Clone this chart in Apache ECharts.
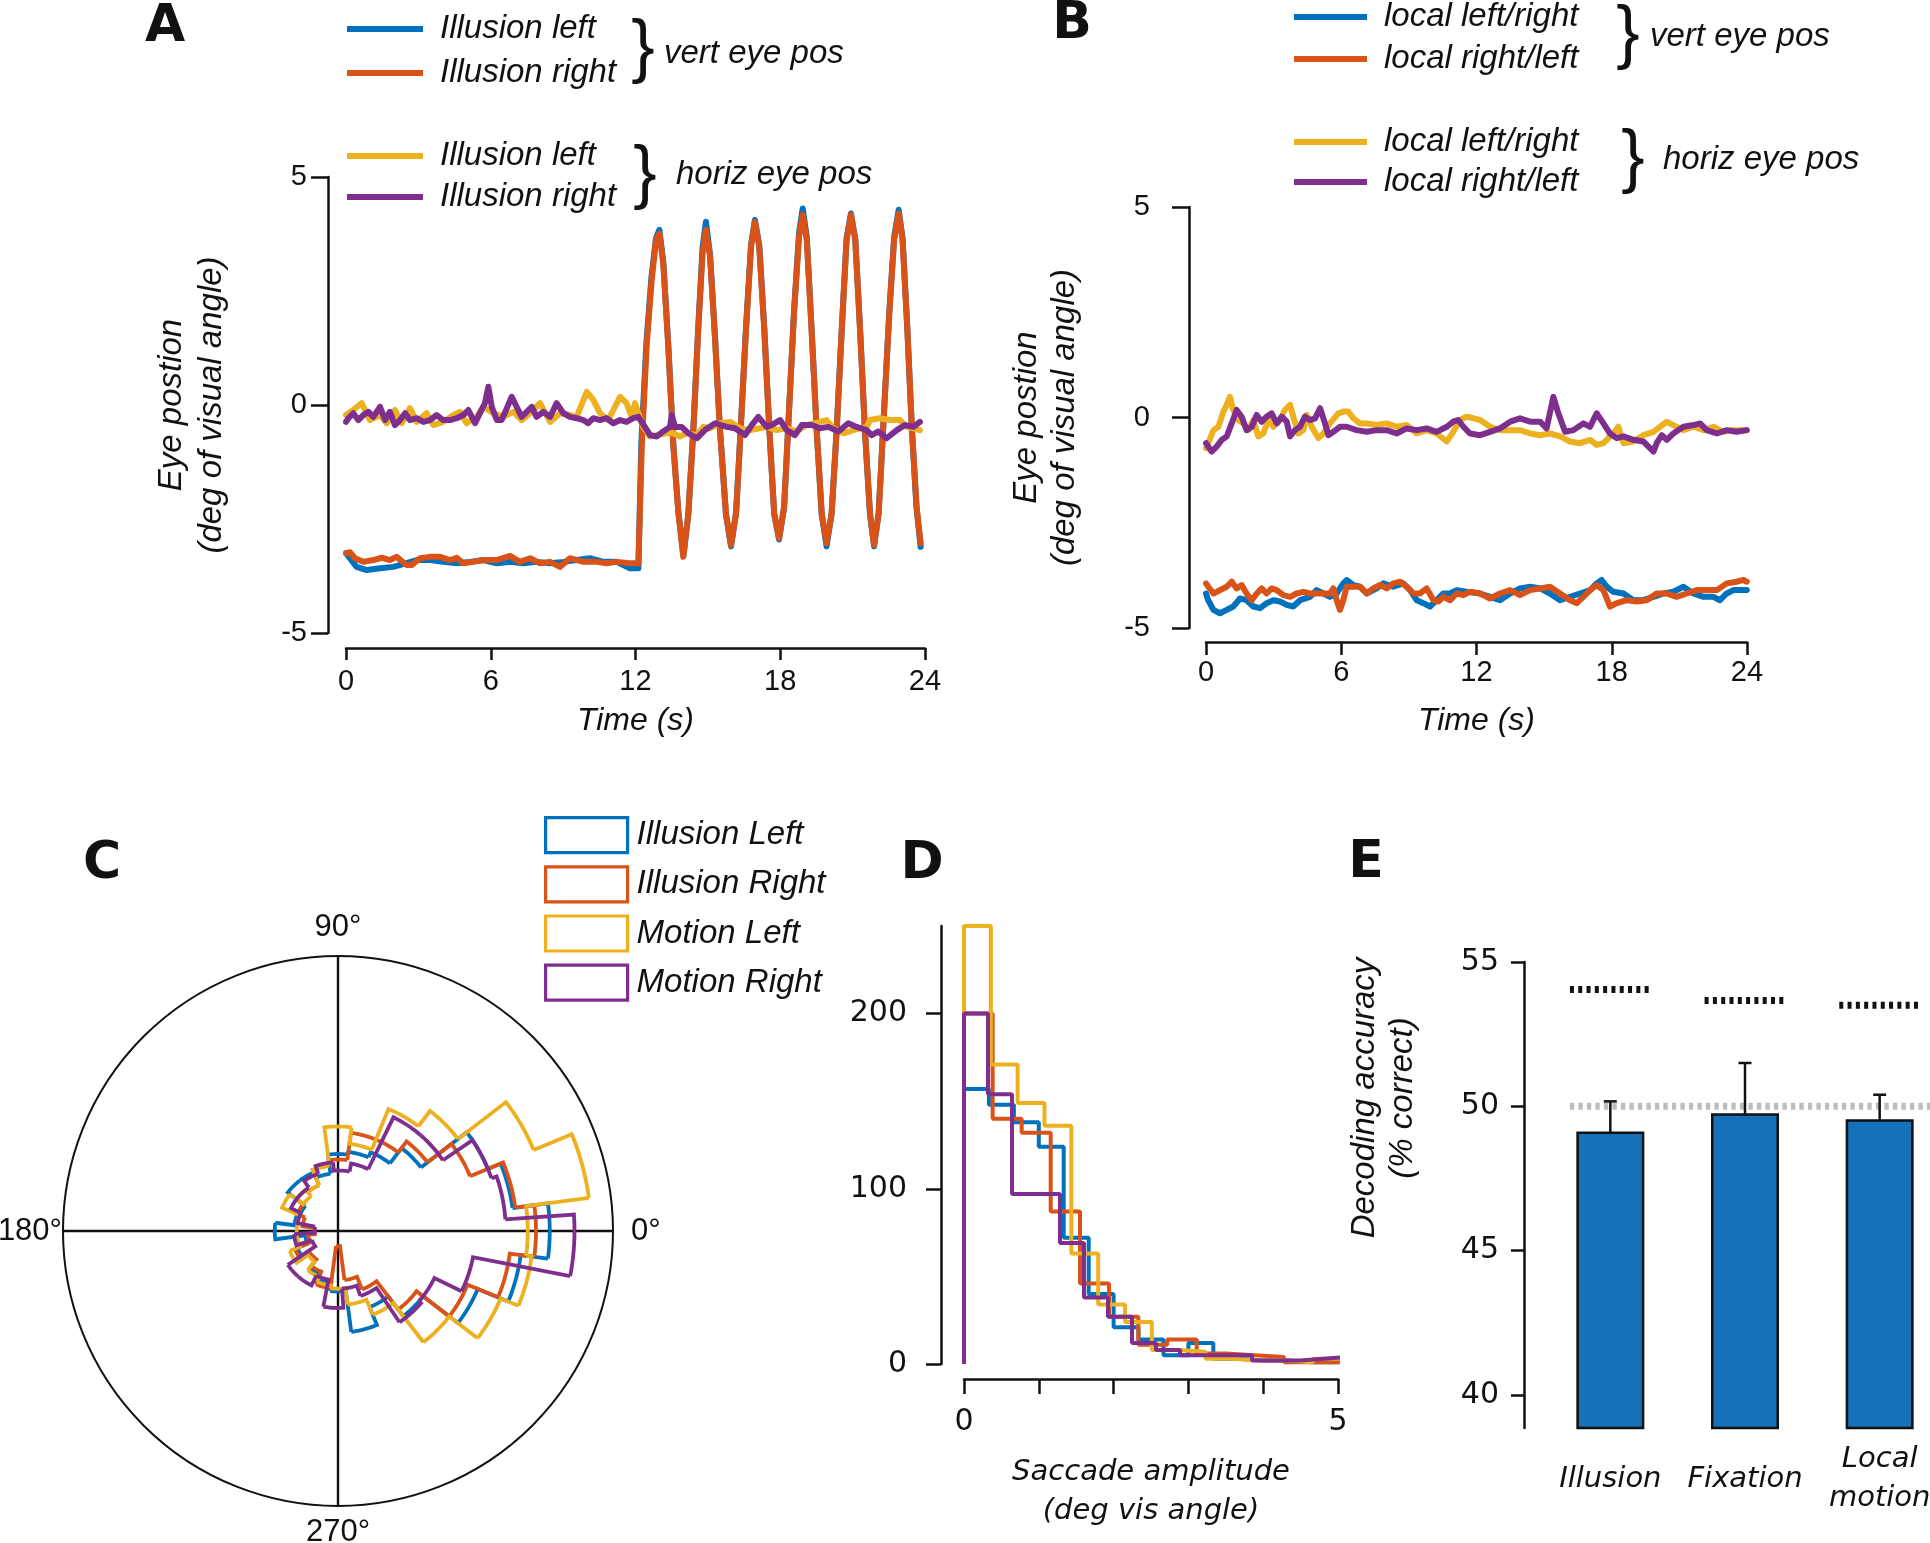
<!DOCTYPE html>
<html><head><meta charset="utf-8">
<script src="https://cdn.jsdelivr.net/npm/echarts@6/dist/echarts.min.js"></script>
<style>html,body{margin:0;padding:0;background:#fff}#c{width:1930px;height:1543px}</style>
</head><body><div id="c"></div>
<script>
// ================= DATA =================
// ---- Panel A: eye position during illusion (time s, deg) ----
const aVertLeft = [[0,-3.25],[0.44,-3.55],[0.86,-3.62],[1.41,-3.58],[1.96,-3.55],[2.51,-3.47],[2.93,-3.40],[3.48,-3.40],[4.03,-3.44],[4.59,-3.47],[5.14,-3.44],[5.69,-3.40],[6.25,-3.47],[6.80,-3.44],[7.35,-3.47],[7.90,-3.44],[8.46,-3.47],[9.01,-3.44],[9.56,-3.40],[10.11,-3.36],[10.67,-3.44],[11.22,-3.44],[11.77,-3.58],[12.12,-3.58],[12.24,-0.85],[12.45,1.35],[12.66,2.80],[12.85,3.66],[12.99,3.84],[13.15,3.15],[13.36,1.30],[13.57,-0.88],[13.78,-2.36],[13.99,-3.30],[14.19,-2.40],[14.40,-0.50],[14.60,1.70],[14.78,3.45],[14.92,4.02],[15.09,3.30],[15.30,1.45],[15.50,-0.52],[15.75,-2.40],[15.96,-3.10],[16.17,-2.35],[16.36,-0.50],[16.58,1.70],[16.79,3.52],[16.95,4.06],[17.13,3.50],[17.34,1.66],[17.55,-0.55],[17.75,-2.40],[17.95,-2.95],[18.16,-2.25],[18.36,-0.15],[18.57,2.05],[18.78,3.78],[18.93,4.31],[19.10,3.68],[19.30,1.66],[19.51,-0.55],[19.72,-2.42],[19.92,-3.10],[20.13,-2.38],[20.34,-0.52],[20.55,1.68],[20.75,3.66],[20.93,4.20],[21.11,3.64],[21.31,1.64],[21.51,-0.57],[21.72,-2.40],[21.89,-3.10],[22.08,-2.36],[22.30,-0.16],[22.52,2.04],[22.72,3.68],[22.91,4.28],[23.07,3.66],[23.27,1.66],[23.46,-0.57],[23.65,-2.27],[23.82,-3.11]];
const aVertRight = [[0,-3.25],[0.17,-3.23],[0.37,-3.36],[0.72,-3.44],[1.13,-3.40],[1.48,-3.35],[1.82,-3.40],[2.10,-3.33],[2.51,-3.51],[2.72,-3.51],[3.07,-3.36],[3.48,-3.33],[3.90,-3.33],[4.31,-3.40],[4.59,-3.35],[4.86,-3.47],[5.28,-3.44],[5.69,-3.40],[6.25,-3.40],[6.80,-3.31],[7.21,-3.44],[7.63,-3.36],[8.04,-3.47],[8.46,-3.44],[8.87,-3.55],[9.28,-3.36],[9.84,-3.44],[10.39,-3.44],[10.80,-3.47],[11.22,-3.44],[11.77,-3.47],[12.12,-3.47],[12.26,-0.91],[12.46,1.28],[12.67,2.74],[12.85,3.62],[12.99,3.76],[13.15,3.11],[13.36,1.28],[13.57,-0.91],[13.78,-2.38],[13.98,-3.33],[14.19,-2.38],[14.40,-0.55],[14.60,1.64],[14.78,3.33],[14.92,3.84],[15.09,3.26],[15.30,1.43],[15.50,-0.55],[15.75,-2.38],[15.96,-3.07],[16.17,-2.38],[16.36,-0.55],[16.58,1.64],[16.79,3.47],[16.95,4.02],[17.13,3.47],[17.34,1.64],[17.55,-0.55],[17.75,-2.38],[17.95,-2.92],[18.16,-2.23],[18.36,-0.18],[18.57,2.01],[18.78,3.69],[18.93,4.17],[19.10,3.62],[19.30,1.64],[19.51,-0.55],[19.72,-2.38],[19.92,-3.03],[20.13,-2.38],[20.34,-0.55],[20.55,1.64],[20.75,3.62],[20.93,4.17],[21.11,3.62],[21.31,1.64],[21.51,-0.55],[21.72,-2.38],[21.89,-3.07],[22.08,-2.38],[22.30,-0.18],[22.52,2.01],[22.72,3.62],[22.91,4.20],[23.07,3.62],[23.27,1.64],[23.46,-0.55],[23.65,-2.23],[23.82,-3.03]];
const aHorizLeft = [[0,-0.22],[0.30,-0.11],[0.65,0.04],[0.99,-0.33],[1.41,-0.22],[1.69,-0.40],[2.03,-0.11],[2.31,-0.40],[2.65,-0.07],[2.93,-0.37],[3.34,-0.18],[3.62,-0.44],[4.03,-0.37],[4.45,-0.22],[4.73,-0.15],[5.00,-0.40],[5.42,-0.26],[5.69,-0.04],[6.11,-0.18],[6.52,-0.26],[6.94,-0.15],[7.28,-0.33],[7.63,-0.18],[8.04,0.04],[8.46,-0.37],[8.87,-0.18],[9.28,-0.22],[9.56,-0.26],[9.98,0.29],[10.25,0.11],[10.53,-0.18],[10.87,-0.33],[11.08,-0.11],[11.36,0.18],[11.63,0.04],[11.84,-0.26],[11.98,0.04],[12.12,-0.18],[12.32,-0.48],[12.60,-0.69],[12.88,-0.66],[13.29,-0.62],[13.57,-0.62],[13.84,-0.69],[14.12,-0.62],[14.54,-0.66],[14.81,-0.48],[15.09,-0.51],[15.50,-0.40],[15.92,-0.37],[16.33,-0.51],[16.75,-0.55],[17.16,-0.51],[17.44,-0.48],[17.85,-0.55],[18.27,-0.51],[18.68,-0.58],[19.09,-0.44],[19.65,-0.37],[19.92,-0.33],[20.20,-0.51],[20.62,-0.62],[21.03,-0.55],[21.58,-0.48],[21.72,-0.33],[22.13,-0.29],[22.55,-0.33],[22.96,-0.33],[23.24,-0.48],[23.52,-0.51],[23.79,-0.55]];
const aHorizRight = [[0,-0.37],[0.10,-0.29],[0.30,-0.18],[0.51,-0.33],[0.72,-0.22],[0.93,-0.15],[1.13,-0.26],[1.41,-0.04],[1.62,-0.33],[1.82,-0.15],[2.03,-0.44],[2.24,-0.33],[2.45,-0.18],[2.65,-0.33],[2.93,-0.29],[3.21,-0.37],[3.48,-0.33],[3.76,-0.22],[4.03,-0.33],[4.31,-0.33],[4.59,-0.29],[4.86,-0.22],[5.07,-0.11],[5.35,-0.40],[5.55,-0.18],[5.76,0.04],[5.90,0.40],[6.04,-0.04],[6.25,-0.33],[6.45,-0.33],[6.66,-0.08],[6.87,0.18],[7.07,-0.04],[7.28,-0.26],[7.49,-0.15],[7.70,-0.04],[7.90,-0.26],[8.18,-0.15],[8.46,-0.26],[8.73,0.04],[9.01,-0.18],[9.28,-0.26],[9.56,-0.29],[9.84,-0.33],[10.04,-0.40],[10.25,-0.29],[10.53,-0.33],[10.80,-0.29],[11.08,-0.40],[11.36,-0.33],[11.63,-0.37],[11.91,-0.29],[12.12,-0.26],[12.39,-0.48],[12.60,-0.66],[12.88,-0.69],[13.15,-0.58],[13.43,-0.48],[13.50,-0.22],[13.64,-0.48],[13.91,-0.48],[14.19,-0.62],[14.54,-0.73],[14.88,-0.55],[15.30,-0.40],[15.78,-0.48],[16.12,-0.51],[16.54,-0.66],[16.82,-0.44],[17.09,-0.26],[17.44,-0.48],[17.64,-0.44],[17.99,-0.33],[18.27,-0.55],[18.61,-0.66],[18.89,-0.44],[19.30,-0.44],[19.65,-0.51],[19.99,-0.48],[20.41,-0.58],[20.82,-0.40],[21.17,-0.48],[21.58,-0.55],[21.79,-0.66],[22.07,-0.58],[22.41,-0.73],[22.83,-0.55],[23.17,-0.44],[23.52,-0.48],[23.79,-0.37]];

// ---- Panel B: eye position during local motion ----
const bVertLR = [[0,-4.18],[0.10,-4.34],[0.33,-4.57],[0.62,-4.65],[0.92,-4.57],[1.21,-4.49],[1.51,-4.30],[1.80,-4.34],[2.10,-4.49],[2.40,-4.53],[2.69,-4.41],[2.99,-4.34],[3.28,-4.37],[3.58,-4.45],[3.87,-4.49],[4.17,-4.34],[4.61,-4.26],[4.91,-4.10],[5.21,-4.18],[5.50,-4.26],[5.80,-4.18],[6.09,-3.94],[6.24,-3.86],[6.54,-3.98],[6.83,-4.02],[7.13,-4.18],[7.57,-4.06],[7.87,-3.94],[8.31,-4.02],[8.75,-3.94],[9.05,-4.10],[9.35,-4.34],[9.64,-4.41],[9.94,-4.49],[10.23,-4.34],[10.53,-4.18],[10.83,-4.18],[11.12,-4.10],[11.56,-4.14],[12.16,-4.18],[12.60,-4.26],[13.04,-4.34],[13.49,-4.18],[13.93,-4.06],[14.38,-4.02],[14.82,-4.06],[15.26,-4.18],[15.71,-4.34],[16.15,-4.26],[16.59,-4.18],[17.04,-4.10],[17.33,-3.94],[17.55,-3.86],[17.78,-4.02],[18.07,-4.14],[18.52,-4.18],[18.96,-4.34],[19.40,-4.34],[19.85,-4.26],[20.29,-4.18],[20.73,-4.14],[21.18,-4.02],[21.62,-4.18],[22.07,-4.26],[22.51,-4.26],[22.80,-4.34],[23.10,-4.18],[23.40,-4.10],[23.69,-4.10],[23.99,-4.10]];
const bVertRL = [[0,-3.94],[0.10,-4.02],[0.33,-4.18],[0.62,-4.10],[0.92,-4.02],[1.14,-3.90],[1.36,-4.06],[1.58,-3.98],[1.80,-4.18],[2.03,-4.34],[2.25,-4.18],[2.47,-4.06],[2.69,-4.18],[2.91,-4.06],[3.14,-4.10],[3.43,-4.22],[3.73,-4.26],[4.02,-4.18],[4.32,-4.14],[4.61,-4.18],[4.91,-4.18],[5.21,-4.18],[5.50,-4.18],[5.65,-4.06],[5.80,-4.34],[5.94,-4.57],[6.09,-4.34],[6.24,-4.02],[6.54,-4.02],[6.83,-4.02],[7.13,-4.18],[7.42,-4.06],[7.72,-3.98],[8.02,-4.06],[8.31,-3.94],[8.61,-3.90],[8.90,-4.02],[9.20,-4.18],[9.49,-4.18],[9.79,-4.06],[10.09,-4.34],[10.31,-4.37],[10.53,-4.26],[10.83,-4.34],[11.12,-4.18],[11.42,-4.22],[11.71,-4.14],[12.16,-4.18],[12.60,-4.30],[13.04,-4.18],[13.49,-4.10],[13.93,-4.22],[14.38,-4.10],[14.82,-4.06],[15.26,-4.02],[15.71,-4.18],[16.15,-4.34],[16.45,-4.41],[16.74,-4.26],[17.04,-4.10],[17.33,-3.98],[17.63,-4.10],[17.92,-4.49],[18.22,-4.41],[18.66,-4.34],[19.11,-4.37],[19.55,-4.34],[19.99,-4.18],[20.44,-4.18],[20.88,-4.26],[21.33,-4.18],[21.77,-4.10],[22.21,-4.10],[22.66,-4.10],[23.10,-3.94],[23.54,-3.90],[23.84,-3.86],[23.99,-3.90]];
const bHorizLR = [[0,-0.73],[0.10,-0.61],[0.33,-0.30],[0.55,-0.22],[0.77,0.14],[0.92,0.30],[1.06,0.49],[1.21,0.18],[1.43,-0.06],[1.66,-0.14],[1.88,-0.30],[2.10,-0.06],[2.32,-0.45],[2.54,-0.38],[2.77,-0.06],[2.99,-0.22],[3.28,-0.06],[3.50,0.18],[3.73,0.30],[3.87,0.02],[4.10,-0.38],[4.32,-0.30],[4.47,0.06],[4.69,-0.22],[4.98,-0.49],[5.21,-0.38],[5.50,-0.14],[5.87,0.10],[6.09,0.14],[6.31,0.14],[6.54,-0.02],[6.83,-0.14],[7.13,-0.14],[7.57,-0.18],[8.02,-0.14],[8.46,-0.22],[8.90,-0.18],[9.35,-0.38],[9.79,-0.30],[10.23,-0.38],[10.68,-0.57],[10.97,-0.34],[11.27,-0.06],[11.56,0.02],[12.16,-0.06],[12.60,-0.22],[13.04,-0.30],[13.49,-0.30],[13.93,-0.30],[14.38,-0.38],[14.82,-0.42],[15.26,-0.38],[15.71,-0.45],[16.15,-0.57],[16.59,-0.61],[17.04,-0.53],[17.33,-0.65],[17.63,-0.61],[18.07,-0.38],[18.29,-0.22],[18.52,-0.61],[18.96,-0.57],[19.40,-0.42],[19.85,-0.34],[20.14,-0.22],[20.44,-0.10],[20.73,-0.18],[21.18,-0.30],[21.62,-0.22],[22.07,-0.30],[22.51,-0.22],[22.95,-0.34],[23.40,-0.30],[23.84,-0.30],[23.99,-0.30]];
const bHorizRL = [[0,-0.61],[0.25,-0.81],[0.47,-0.69],[0.70,-0.53],[0.92,-0.45],[1.14,-0.14],[1.36,0.18],[1.58,0.02],[1.80,-0.30],[2.03,-0.22],[2.25,0.06],[2.47,-0.10],[2.69,0.02],[2.91,0.10],[3.14,-0.14],[3.36,0.02],[3.58,-0.10],[3.73,-0.45],[3.95,-0.30],[4.17,-0.22],[4.39,0.02],[4.61,-0.06],[4.84,-0.02],[5.06,0.22],[5.28,-0.14],[5.43,-0.42],[5.65,-0.34],[5.94,-0.22],[6.24,-0.22],[6.68,-0.30],[7.13,-0.34],[7.57,-0.30],[8.02,-0.30],[8.46,-0.38],[8.90,-0.26],[9.35,-0.30],[9.79,-0.26],[10.23,-0.34],[10.68,-0.22],[10.97,-0.10],[11.19,-0.06],[11.42,-0.22],[11.71,-0.38],[12.16,-0.42],[12.60,-0.34],[13.04,-0.26],[13.49,-0.10],[13.93,-0.02],[14.38,-0.10],[14.82,-0.10],[15.11,-0.26],[15.41,0.49],[15.63,0.10],[15.93,-0.34],[16.30,-0.30],[16.74,-0.14],[17.04,-0.22],[17.33,0.10],[17.63,-0.14],[17.92,-0.38],[18.22,-0.49],[18.52,-0.45],[18.96,-0.53],[19.40,-0.57],[19.85,-0.81],[19.99,-0.61],[20.22,-0.42],[20.44,-0.53],[20.73,-0.38],[21.18,-0.22],[21.62,-0.18],[21.92,-0.14],[22.21,-0.30],[22.66,-0.38],[23.10,-0.30],[23.54,-0.34],[23.99,-0.30]];

// ---- Panel C: saccade direction histograms (bin centre deg, count; circle = 100) ----
const roseBinWidth = 15;
const roseAngles = [0,15,30,45,60,75,90,105,120,135,150,165,180,195,210,225,240,255,270,285,300,315,330,345];
const roseAnglesMotionRight = [-3.5,11.5,26.5,41.5,56.5,71.5,86.5,101.5,116.5,131.5,146.5,161.5,176.5,191.5,206.5,221.5,236.5,251.5,266.5,281.5,296.5,311.5,326.5,341.5];
const roseIllusionLeft  = [77,64,59,38,31,29,28,21,23,23,15,16,23,12,16,13,17,19,22,37,30,39,55,67];
const roseIllusionRight = [72,65,52,41,36,36,26,24,18,19,16,13,8.5,11,17,13,16,21,5.5,18,23,36,51,63];
const roseMotionLeft    = [69,92,77,55,48,32,38,24,18,16,22,15,15,15,19,14,18,20,21,27,33,51,64,71];
const roseMotionRight   = [86,61,59,46,46,25,22,25,22,19,19,15,8.5,16,10,22,22,18,28,21,25,40,39,50];
const roseNames = ['Illusion Left','Illusion Right','Motion Left','Motion Right'];

// ---- Panel D: saccade amplitude histograms (bin edges deg, counts) ----
const dEdgesIllusionLeft  = [0,0.333,0.667,1.0,1.333,1.667,2.0,2.333,2.667,3.0,3.333,3.667,4.0,4.333,4.667,5.0];
const dCountsIllusionLeft = [157,148,138,124,72,40,21,14,5,12,3,2,2,1,1];
const dEdgesIllusionRight  = [0,0.383,0.771,1.159,1.551,1.939,2.331,2.718,3.111,3.498,3.890,4.278,4.670,5.058];
const dCountsIllusionRight = [200,140,132,87,46,27,11,14,6,5,4,1,1];
const dEdgesMotionLeft  = [0,0.359,0.717,1.076,1.435,1.794,2.152,2.511,2.870,3.229,3.587,3.946,4.305,4.664,5.022];
const dCountsMotionLeft = [250,171,149,136,63,34,24,8,7,3,2,2,1,3];
const dEdgesMotionRight  = [0,0.321,0.642,0.963,1.283,1.604,1.925,2.246,2.567,2.888,3.209,3.529,3.850,4.171,4.492,4.813,5.134];
const dCountsMotionRight = [200,154,97,97,69,38,27,12,8,5,5,5,2,2,3,4];
const dYTicks = [0,100,200];
const dXLabels = [0,5];

// ---- Panel E: decoding accuracy (% correct) ----
const eCats = ['Illusion','Fixation','Local\nmotion'];
const eAccuracy = [49.13,49.76,49.55];
const eErrLow  = [48.04,47.94,48.66];
const eErrHigh = [50.17,51.50,50.40];
const eThreshold = [54.05,53.67,53.50];
const eChance = 50;
const eYTicks = [40,45,50,55];

// ================= STYLE =================
const FONT = '"Liberation Sans", Arial, Helvetica, sans-serif';
const WIDE = '"DejaVu Sans", Verdana, sans-serif';
const INK = '#111';
const COL = { blue:'#0072BD', orange:'#D95319', yellow:'#EDB120', purple:'#7E2F8E' };
const roseColors = [COL.blue, COL.orange, COL.yellow, COL.purple];

const chart = echarts.init(document.getElementById('c'), null, {renderer:'canvas'});

function lineSeries(name, data, color, xi) {
  return { type:'line', name, data, xAxisIndex:xi, yAxisIndex:xi, showSymbol:false, symbol:'none',
    color, lineStyle:{color, width:6, cap:'round', join:'round'}, itemStyle:{color}, silent:true };
}
function histData(edges, counts) {
  const out = [[edges[0], 0]];
  for (let i = 0; i < counts.length; i++) out.push([edges[i], counts[i]]);
  out.push([edges[edges.length - 1], counts[counts.length - 1]]);
  return out;
}
function histSeries(name, edges, counts, color) {
  return { type:'line', name, data:histData(edges, counts), step:'end', xAxisIndex:2, yAxisIndex:2,
    showSymbol:false, symbol:'none', clip:false, color, lineStyle:{color, width:4}, silent:true };
}
function roseSeries(name, angles, radii, color) {
  const data = angles.map((a, i) => [radii[i], a, radii[(i + 1) % radii.length]]);
  return { type:'custom', name, coordinateSystem:'polar', polarIndex:0, data,
    encode:{radius:0, angle:1}, itemStyle:{color}, silent:true,
    renderItem(params, api) {
      const r = api.value(0), c = api.value(1), rn = api.value(2), h = roseBinWidth / 2;
      const pts = [];
      for (let k = 0; k <= 12; k++) pts.push(api.coord([r, c - h + 2 * h * k / 12]));
      pts.push(api.coord([rn, c + h]));
      return { type:'polyline', shape:{points:pts}, style:{stroke:color, lineWidth:3.8, fill:null, lineJoin:'miter'} };
    } };
}
const legendLine = (left, top, names, iw, gap) => ({
  orient:'vertical', left, top, padding:0, icon:'rect', itemWidth:iw, itemHeight:6, itemGap:gap, selectedMode:false,
  data:names, formatter:n => n.replace(/ \((vert|horiz)\)$/, ''),
  textStyle:{fontFamily:FONT, fontStyle:'italic', fontSize:33, color:INK, lineHeight:34, padding:[0,0,0,12]}
});
const axisLine = {show:true, onZero:false, lineStyle:{color:INK, width:2.5}};
const tickStyle = len => ({show:true, inside:false, length:len, lineStyle:{color:INK, width:2.5}});
const lbl = (size, margin, fam) => ({color:INK, fontFamily:fam || FONT, fontSize:size, margin, lineHeight:size + 1});
const LETTER = 'bold 52px "DejaVu Sans"';

const option = {
  animation:false,
  backgroundColor:'#fff',
  textStyle:{fontFamily:FONT, color:INK},
  grid:[
    {left:346, top:177, width:579, height:456, containLabel:false, outerBoundsMode:'none'},
    {left:1206, top:207, width:541, height:421, containLabel:false, outerBoundsMode:'none'},
    {left:964, top:926, width:374, height:438, containLabel:false, outerBoundsMode:'none'},
    {left:1543, top:962, width:404, height:466, containLabel:false, outerBoundsMode:'none'}
  ],
  polar:{center:[338, 1231], radius:275},
  angleAxis:{type:'value', min:0, max:360, interval:90, startAngle:0, clockwise:false,
    axisLine:{show:true, lineStyle:{color:INK, width:2}}, axisTick:{show:false},
    splitLine:{show:true, lineStyle:{color:INK, width:2.4}},
    axisLabel:{show:true, margin:1, color:INK, fontFamily:FONT, fontSize:31,
      formatter:v => ({0:'{r|0°}', 90:'{t|90°}', 180:'{l|180°}', 270:'{b|270°}'}[v] || ''),
      rich:{ r:{padding:[0,0,0,17], fontSize:31, fontFamily:FONT, color:INK},
             t:{padding:[0,0,12,0], fontSize:31, fontFamily:FONT, color:INK},
             l:{fontSize:31, fontFamily:FONT, color:INK},
             b:{padding:[10,0,0,0], fontSize:31, fontFamily:FONT, color:INK} } } },
  radiusAxis:{type:'value', min:0, max:100, axisLine:{show:false}, axisTick:{show:false}, axisLabel:{show:false}, splitLine:{show:false}},
  xAxis:[
    {gridIndex:0, type:'value', min:0, max:24, interval:6, offset:15, axisLine, axisTick:tickStyle(12),
      axisLabel:lbl(29, 19), splitLine:{show:false},
      name:'Time (s)', nameLocation:'middle', nameGap:56,
      nameTextStyle:{fontFamily:FONT, fontStyle:'italic', fontSize:32, color:INK, lineHeight:34}},
    {gridIndex:1, type:'value', min:0, max:24, interval:6, offset:14, axisLine, axisTick:tickStyle(13),
      axisLabel:lbl(29, 16), splitLine:{show:false},
      name:'Time (s)', nameLocation:'middle', nameGap:62,
      nameTextStyle:{fontFamily:FONT, fontStyle:'italic', fontSize:32, color:INK, lineHeight:34}},
    {gridIndex:2, type:'value', min:0, max:5, interval:1, offset:15, axisLine, axisTick:tickStyle(15),
      axisLabel:Object.assign(lbl(30, 28, WIDE), {customValues:dXLabels}), splitLine:{show:false},
      name:'Saccade amplitude\n(deg vis angle)', nameLocation:'middle', nameGap:74,
      nameTextStyle:{fontFamily:WIDE, fontStyle:'italic', fontSize:29, color:INK, lineHeight:39}},
    {gridIndex:3, type:'category', data:eCats, axisLine:{show:false, onZero:false}, axisTick:{show:false}, splitLine:{show:false},
      axisLabel:{color:INK, fontFamily:WIDE, fontStyle:'italic', fontSize:29, lineHeight:39, margin:51, verticalAlign:'middle', interval:0}}
  ],
  yAxis:[
    {gridIndex:0, type:'value', min:-5, max:5, interval:5, offset:18, axisLine, axisTick:tickStyle(17),
      axisLabel:lbl(29, 21), splitLine:{show:false},
      name:'Eye postion\n(deg of visual angle)', nameLocation:'middle', nameGap:96, nameRotate:90,
      nameTextStyle:{fontFamily:FONT, fontStyle:'italic', fontSize:33, color:INK, lineHeight:40}},
    {gridIndex:1, type:'value', min:-5, max:5, interval:5, offset:17, axisLine, axisTick:tickStyle(17),
      axisLabel:lbl(29, 39), splitLine:{show:false},
      name:'Eye postion\n(deg of visual angle)', nameLocation:'middle', nameGap:105, nameRotate:90,
      nameTextStyle:{fontFamily:FONT, fontStyle:'italic', fontSize:33, color:INK, lineHeight:38}},
    {gridIndex:2, type:'value', min:0, max:250, offset:23, axisLine,
      axisTick:Object.assign(tickStyle(15), {customValues:dYTicks}),
      axisLabel:Object.assign(lbl(30, 34, WIDE), {customValues:dYTicks}), splitLine:{show:false}},
    {gridIndex:3, type:'value', min:38.85, max:55, offset:19, axisLine,
      axisTick:Object.assign(tickStyle(13), {customValues:eYTicks}),
      axisLabel:Object.assign(lbl(30, 25, WIDE), {customValues:eYTicks}), splitLine:{show:false}}
  ],
  legend:[
    legendLine(347, 12, ['Illusion left (vert)','Illusion right (vert)'], 76, 10),
    legendLine(347, 139, ['Illusion left (horiz)','Illusion right (horiz)'], 76, 7),
    legendLine(1294, 0, ['local left/right (vert)','local right/left (vert)'], 73, 8),
    legendLine(1294, 125, ['local left/right (horiz)','local right/left (horiz)'], 73, 6),
    {orient:'vertical', left:544, top:816, padding:0, itemWidth:82, itemHeight:35, itemGap:11, selectedMode:false,
      data:roseNames.map((n, i) => ({name:n, icon:'rect', itemStyle:{color:'rgba(0,0,0,0)', borderColor:roseColors[i], borderWidth:3.2}})),
      textStyle:{fontFamily:FONT, fontStyle:'italic', fontSize:33, lineHeight:35, color:INK, padding:[0,0,0,4]}}
  ],
  graphic:[
    {type:'text', x:165, y:27, style:{text:'A', font:LETTER, fill:INK, align:'center', verticalAlign:'middle'}},
    {type:'text', x:1072, y:24, style:{text:'B', font:LETTER, fill:INK, align:'center', verticalAlign:'middle'}},
    {type:'text', x:102, y:864, style:{text:'C', font:LETTER, fill:INK, align:'center', verticalAlign:'middle'}},
    {type:'text', x:922, y:864, style:{text:'D', font:LETTER, fill:INK, align:'center', verticalAlign:'middle'}},
    {type:'text', x:1366, y:863, style:{text:'E', font:LETTER, fill:INK, align:'center', verticalAlign:'middle'}},
    {type:'text', x:643, y:50, style:{text:'}', font:'70px "Liberation Sans"', fill:INK, align:'center', verticalAlign:'middle'}},
    {type:'text', x:664, y:54, style:{text:'vert eye pos', font:'italic 33px "Liberation Sans"', fill:INK, align:'left', verticalAlign:'middle'}},
    {type:'text', x:645, y:176, style:{text:'}', font:'70px "Liberation Sans"', fill:INK, align:'center', verticalAlign:'middle'}},
    {type:'text', x:676, y:175, style:{text:'horiz eye pos', font:'italic 33px "Liberation Sans"', fill:INK, align:'left', verticalAlign:'middle'}},
    {type:'text', x:1628, y:36, style:{text:'}', font:'70px "Liberation Sans"', fill:INK, align:'center', verticalAlign:'middle'}},
    {type:'text', x:1650, y:37, style:{text:'vert eye pos', font:'italic 33px "Liberation Sans"', fill:INK, align:'left', verticalAlign:'middle'}},
    {type:'text', x:1633, y:160, style:{text:'}', font:'70px "Liberation Sans"', fill:INK, align:'center', verticalAlign:'middle'}},
    {type:'text', x:1663, y:160, style:{text:'horiz eye pos', font:'italic 33px "Liberation Sans"', fill:INK, align:'left', verticalAlign:'middle'}},
    {type:'text', x:1384, y:1098, rotation:Math.PI / 2, style:{text:'Decoding accuracy\n(% correct)', font:'italic 33px "Liberation Sans"', fill:INK, align:'center', verticalAlign:'middle', lineHeight:38}}
  ],
  series:[
    lineSeries('Illusion left (vert)', aVertLeft, COL.blue, 0),
    lineSeries('Illusion right (vert)', aVertRight, COL.orange, 0),
    lineSeries('Illusion left (horiz)', aHorizLeft, COL.yellow, 0),
    lineSeries('Illusion right (horiz)', aHorizRight, COL.purple, 0),
    lineSeries('local left/right (vert)', bVertLR, COL.blue, 1),
    lineSeries('local right/left (vert)', bVertRL, COL.orange, 1),
    lineSeries('local left/right (horiz)', bHorizLR, COL.yellow, 1),
    lineSeries('local right/left (horiz)', bHorizRL, COL.purple, 1),
    roseSeries('Illusion Left', roseAngles, roseIllusionLeft, COL.blue),
    roseSeries('Illusion Right', roseAngles, roseIllusionRight, COL.orange),
    roseSeries('Motion Left', roseAngles, roseMotionLeft, COL.yellow),
    roseSeries('Motion Right', roseAnglesMotionRight, roseMotionRight, COL.purple),
    histSeries('Illusion Left amplitude', dEdgesIllusionLeft, dCountsIllusionLeft, COL.blue),
    histSeries('Illusion Right amplitude', dEdgesIllusionRight, dCountsIllusionRight, COL.orange),
    histSeries('Motion Left amplitude', dEdgesMotionLeft, dCountsMotionLeft, COL.yellow),
    histSeries('Motion Right amplitude', dEdgesMotionRight, dCountsMotionRight, COL.purple),
    { type:'custom', name:'Chance', xAxisIndex:3, yAxisIndex:3, data:[[0, eChance]], silent:true,
      renderItem(params, api) {
        const p = api.coord([api.value(0), api.value(1)]);
        const band = api.size([1, 0])[0];
        return { type:'line', shape:{x1:p[0] - 0.3 * band, y1:p[1], x2:p[0] + 3 * band, y2:p[1]},
          style:{stroke:'#bdbdbd', lineWidth:7, lineDash:[4.3, 4.2]} };
      } },
    { type:'bar', name:'Decoding accuracy', xAxisIndex:3, yAxisIndex:3, data:eAccuracy, barWidth:68, clip:true,
      itemStyle:{color:'#1771b9', borderColor:INK, borderWidth:2.5}, silent:true },
    { type:'custom', name:'SEM', xAxisIndex:3, yAxisIndex:3, silent:true,
      data:eCats.map((c, i) => [i, eErrLow[i], eErrHigh[i]]),
      renderItem(params, api) {
        const lo = api.coord([api.value(0), api.value(1)]);
        const hi = api.coord([api.value(0), api.value(2)]);
        const w = 6.5, st = {stroke:INK, lineWidth:2.5};
        return { type:'group', children:[
          {type:'line', shape:{x1:lo[0], y1:lo[1], x2:hi[0], y2:hi[1]}, style:st},
          {type:'line', shape:{x1:lo[0] - w, y1:lo[1], x2:lo[0] + w, y2:lo[1]}, style:st},
          {type:'line', shape:{x1:hi[0] - w, y1:hi[1], x2:hi[0] + w, y2:hi[1]}, style:st}
        ]};
      } },
    { type:'custom', name:'Significance threshold', xAxisIndex:3, yAxisIndex:3, silent:true,
      data:eThreshold.map((v, i) => [i, v]),
      renderItem(params, api) {
        const p = api.coord([api.value(0), api.value(1)]);
        const band = api.size([1, 0])[0];
        return { type:'line', shape:{x1:p[0] - 0.3 * band, y1:p[1], x2:p[0] + 0.3 * band, y2:p[1]},
          style:{stroke:INK, lineWidth:7, lineDash:[4, 4.3]} };
      } }
  ]
};
chart.setOption(option);
</script>
</body></html>
